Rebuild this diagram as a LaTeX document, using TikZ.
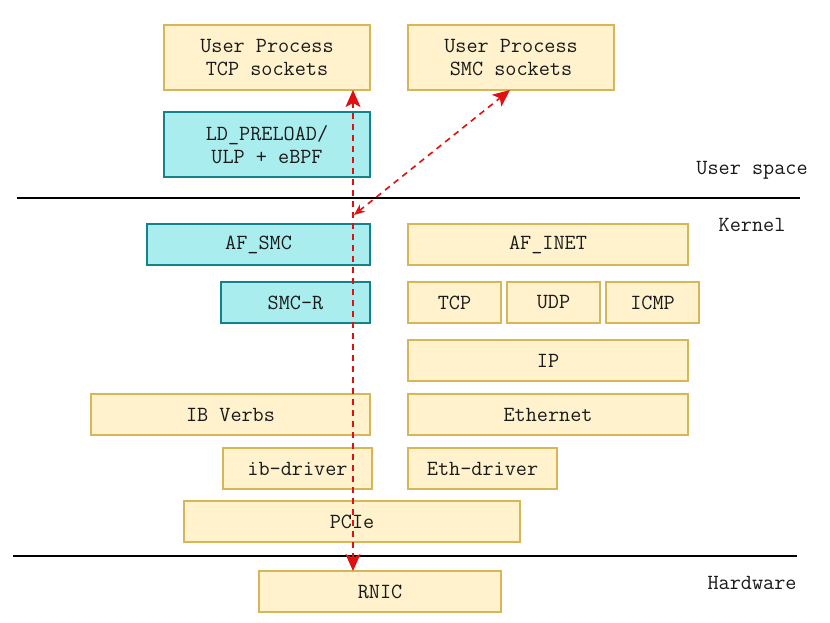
\documentclass[tikz,border=0pt]{standalone}
\usetikzlibrary{arrows.meta,calc}
\definecolor{yfill}{HTML}{FFF2CC}
\definecolor{ydraw}{HTML}{D6B656}
\definecolor{cfill}{HTML}{A9EDEE}
\definecolor{cdraw}{HTML}{13838A}
\definecolor{redarr}{HTML}{E01010}
\definecolor{txt}{HTML}{1A1A1A}
\tikzset{
  yb/.style={draw=ydraw, fill=yfill, line width=1.5pt},
  cb/.style={draw=cdraw, fill=cfill, line width=1.5pt},
  lbl/.style={font=\ttfamily\fontsize{21.6}{24}\selectfont, text=txt, align=center, inner sep=0pt},
  layerline/.style={line width=1.6pt, black},
  redflow/.style={draw=redarr, line width=1.6pt, dash pattern=on 6pt off 5pt, {Stealth[length=17pt,width=15pt,inset=4pt]}-{Stealth[length=17pt,width=15pt,inset=4pt]}},
  redflow2/.style={draw=redarr, line width=1.6pt, dash pattern=on 6pt off 5pt, {Stealth[length=11pt,width=9pt,open]}-{Stealth[length=17pt,width=15pt,inset=4pt]}}
}
\newcommand{\bx}[7]{%
  \path[#6] (#2,-#3) rectangle (#4,-#5);
  \node[lbl] (#1) at ({(#2+#4)/2},{-(#3+#5)/2}) {#7};
  \path ({#2},{-#3}) coordinate (#1-nw) ({#4},{-#5}) coordinate (#1-se);
}
\begin{document}
\begin{tikzpicture}[x=1pt,y=1pt]
\useasboundingbox (0,0) rectangle (830,-622);
\fill[white] (0,0) rectangle (830,-622);
% user space
\bx{tcpu}{164}{25}{370}{90}{yb}{User Process\\[-1pt]TCP sockets}
\bx{smcu}{408}{25}{614}{90}{yb}{User Process\\[-1pt]SMC sockets}
\bx{ldp}{164}{112}{370}{177}{cb}{LD\_PRELOAD/\\[-1pt]ULP + eBPF}
% kernel
\bx{afsmc}{147}{224}{370}{265}{cb}{AF\_SMC}
\bx{afinet}{408}{224}{688}{265}{yb}{AF\_INET}
\bx{smcr}{221}{282}{370}{323}{cb}{SMC-R}
\bx{tcp}{408}{282}{501}{323}{yb}{TCP}
\bx{udp}{507}{282}{600}{323}{yb}{UDP}
\bx{icmp}{606}{282}{699}{323}{yb}{ICMP}
\bx{ip}{408}{340}{688}{381}{yb}{IP}
\bx{ibv}{91}{394}{370}{435}{yb}{IB Verbs}
\bx{eth}{408}{394}{688}{435}{yb}{Ethernet}
\bx{ibd}{223}{448}{372}{489}{yb}{ib-driver}
\bx{ethd}{408}{448}{557}{489}{yb}{Eth-driver}
\bx{pcie}{184}{501}{520}{542}{yb}{PCIe}
% hardware
\bx{rnic}{259}{571}{501}{612}{yb}{RNIC}
% layer lines
\coordinate (l1a) at (17,-198);
\coordinate (l1b) at (800,-198);
\coordinate (l2a) at (13,-556);
\coordinate (l2b) at (797,-556);
\draw[layerline] (l1a) -- (l1b);
\draw[layerline] (l2a) -- (l2b);
\node[lbl, anchor=center] (us) at (752,-170) {User space};
\node[lbl, anchor=center] (kn) at (752,-225) {Kernel};
\node[lbl, anchor=center] (hw) at (752,-583) {Hardware};
% red flows
\coordinate (px) at (353,0);
\coordinate (rtop) at (px |- rnic-nw);
\coordinate (tbot) at (px |- tcpu-se);
\coordinate (branch) at (354,-215);
\coordinate (sbot) at (510,-90);
\draw[redflow] (rtop) -- (tbot);
\draw[redflow2] (branch) -- (sbot);
\end{tikzpicture}
\end{document}
